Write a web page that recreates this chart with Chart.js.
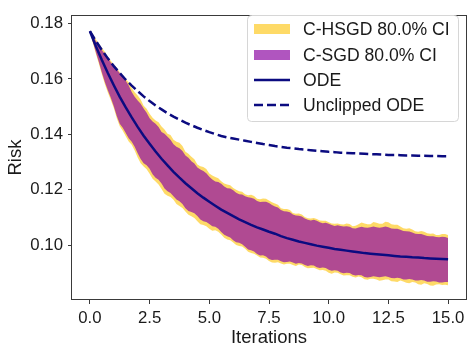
<!DOCTYPE html>
<html><head><meta charset="utf-8">
<script src="https://cdn.jsdelivr.net/npm/chart.js@4/dist/chart.umd.min.js"></script>
<style>html,body{margin:0;padding:0;background:#fff}canvas{display:block}</style>
</head><body>
<canvas id="c" width="474" height="355"></canvas>
<script>
const iterations = [0,0.25,0.5,0.75,1,1.25,1.5,1.75,2,2.25,2.5,2.75,3,3.25,3.5,3.75,4,4.25,4.5,4.75,5,5.25,5.5,5.75,6,6.25,6.5,6.75,7,7.25,7.5,7.75,8,8.25,8.5,8.75,9,9.25,9.5,9.75,10,10.25,10.5,10.75,11,11.25,11.5,11.75,12,12.25,12.5,12.75,13,13.25,13.5,13.75,14,14.25,14.5,14.75,15];
const odeRisk = [0.1772,0.1718,0.1668,0.1621,0.1577,0.1535,0.1497,0.1461,0.1427,0.1395,0.1366,0.1338,0.1312,0.1288,0.1265,0.1244,0.1224,0.1206,0.1188,0.1172,0.1157,0.1143,0.1129,0.1117,0.1105,0.1094,0.1084,0.1074,0.1065,0.1057,0.1049,0.1042,0.1033,0.1026,0.1020,0.1014,0.1009,0.1004,0.0999,0.0995,0.0991,0.0987,0.0984,0.0981,0.0978,0.0975,0.0972,0.0970,0.0968,0.0966,0.0964,0.0962,0.0960,0.0959,0.0957,0.0956,0.0954,0.0953,0.0952,0.0951,0.0950];
const unclippedOdeRisk = [0.1772,0.1737,0.1704,0.1674,0.1646,0.1621,0.1597,0.1576,0.1556,0.1537,0.1520,0.1504,0.1490,0.1476,0.1464,0.1453,0.1442,0.1433,0.1424,0.1416,0.1408,0.1401,0.1394,0.1389,0.1385,0.1381,0.1377,0.1373,0.1369,0.1365,0.1362,0.1358,0.1355,0.1352,0.1350,0.1347,0.1345,0.1343,0.1341,0.1339,0.1337,0.1336,0.1334,0.1333,0.1332,0.1331,0.1330,0.1329,0.1328,0.1327,0.1326,0.1326,0.1325,0.1324,0.1324,0.1323,0.1323,0.1322,0.1322,0.1321,0.1321];

const bandIterations = [0,0.125,0.25,0.375,0.5,0.625,0.75,0.875,1,1.125,1.25,1.375,1.5,1.625,1.75,1.875,2,2.125,2.25,2.375,2.5,2.625,2.75,2.875,3,3.125,3.25,3.375,3.5,3.625,3.75,3.875,4,4.125,4.25,4.375,4.5,4.625,4.75,4.875,5,5.125,5.25,5.375,5.5,5.625,5.75,5.875,6,6.125,6.25,6.375,6.5,6.625,6.75,6.875,7,7.125,7.25,7.375,7.5,7.625,7.75,7.875,8,8.125,8.25,8.375,8.5,8.625,8.75,8.875,9,9.125,9.25,9.375,9.5,9.625,9.75,9.875,10,10.125,10.25,10.375,10.5,10.625,10.75,10.875,11,11.125,11.25,11.375,11.5,11.625,11.75,11.875,12,12.125,12.25,12.375,12.5,12.625,12.75,12.875,13,13.125,13.25,13.375,13.5,13.625,13.75,13.875,14,14.125,14.25,14.375,14.5,14.625,14.75,14.875,15];
const chsgdUpper = [0.1776,0.1761,0.1743,0.1727,0.1712,0.1698,0.1679,0.1665,0.1652,0.1640,0.1624,0.1613,0.1599,0.1588,0.1567,0.1552,0.1540,0.1526,0.1503,0.1492,0.1474,0.1460,0.1450,0.1444,0.1428,0.1418,0.1402,0.1398,0.1381,0.1373,0.1370,0.1358,0.1337,0.1330,0.1319,0.1310,0.1291,0.1285,0.1282,0.1275,0.1259,0.1252,0.1246,0.1242,0.1231,0.1223,0.1219,0.1217,0.1207,0.1200,0.1195,0.1193,0.1184,0.1181,0.1182,0.1178,0.1168,0.1166,0.1169,0.1168,0.1162,0.1155,0.1151,0.1146,0.1134,0.1131,0.1131,0.1127,0.1117,0.1114,0.1115,0.1111,0.1102,0.1098,0.1097,0.1099,0.1095,0.1090,0.1089,0.1089,0.1083,0.1079,0.1078,0.1079,0.1076,0.1075,0.1079,0.1077,0.1069,0.1071,0.1076,0.1082,0.1079,0.1076,0.1076,0.1084,0.1081,0.1078,0.1078,0.1085,0.1083,0.1076,0.1074,0.1074,0.1068,0.1062,0.1060,0.1062,0.1057,0.1051,0.1049,0.1052,0.1049,0.1044,0.1042,0.1043,0.1037,0.1037,0.1041,0.1041,0.1037];
const chsgdLower = [0.1769,0.1729,0.1691,0.1655,0.1617,0.1582,0.1551,0.1524,0.1495,0.1458,0.1429,0.1413,0.1393,0.1374,0.1363,0.1342,0.1317,0.1296,0.1284,0.1274,0.1258,0.1240,0.1230,0.1219,0.1203,0.1186,0.1179,0.1174,0.1164,0.1149,0.1142,0.1135,0.1122,0.1110,0.1105,0.1099,0.1087,0.1076,0.1073,0.1069,0.1060,0.1053,0.1054,0.1049,0.1039,0.1027,0.1021,0.1018,0.1010,0.1001,0.0998,0.0996,0.0988,0.0977,0.0972,0.0970,0.0963,0.0956,0.0955,0.0952,0.0944,0.0938,0.0937,0.0939,0.0935,0.0931,0.0934,0.0934,0.0929,0.0926,0.0931,0.0929,0.0922,0.0917,0.0918,0.0919,0.0915,0.0910,0.0911,0.0908,0.0901,0.0898,0.0902,0.0901,0.0896,0.0891,0.0892,0.0892,0.0887,0.0884,0.0888,0.0885,0.0878,0.0876,0.0880,0.0880,0.0877,0.0872,0.0874,0.0877,0.0877,0.0871,0.0870,0.0868,0.0873,0.0870,0.0865,0.0863,0.0868,0.0866,0.0860,0.0858,0.0863,0.0861,0.0855,0.0854,0.0859,0.0860,0.0857,0.0858,0.0856];
const csgdUpper = [0.1772,0.1755,0.1737,0.1720,0.1704,0.1690,0.1674,0.1659,0.1645,0.1634,0.1620,0.1608,0.1593,0.1576,0.1553,0.1536,0.1522,0.1510,0.1493,0.1478,0.1458,0.1446,0.1438,0.1427,0.1409,0.1402,0.1391,0.1381,0.1364,0.1355,0.1350,0.1340,0.1324,0.1316,0.1303,0.1295,0.1281,0.1273,0.1268,0.1260,0.1247,0.1237,0.1230,0.1228,0.1222,0.1212,0.1206,0.1205,0.1199,0.1190,0.1184,0.1183,0.1177,0.1173,0.1172,0.1168,0.1160,0.1156,0.1157,0.1157,0.1153,0.1145,0.1140,0.1136,0.1127,0.1123,0.1122,0.1119,0.1111,0.1108,0.1107,0.1104,0.1097,0.1092,0.1090,0.1092,0.1089,0.1083,0.1080,0.1081,0.1078,0.1073,0.1070,0.1072,0.1070,0.1068,0.1069,0.1067,0.1062,0.1061,0.1064,0.1067,0.1064,0.1063,0.1065,0.1068,0.1065,0.1063,0.1065,0.1068,0.1065,0.1061,0.1060,0.1060,0.1056,0.1052,0.1051,0.1050,0.1046,0.1042,0.1041,0.1041,0.1037,0.1034,0.1033,0.1033,0.1030,0.1029,0.1031,0.1030,0.1026];
const csgdLower = [0.1772,0.1733,0.1696,0.1661,0.1623,0.1589,0.1559,0.1532,0.1501,0.1466,0.1438,0.1424,0.1405,0.1386,0.1373,0.1355,0.1332,0.1311,0.1296,0.1289,0.1276,0.1256,0.1244,0.1236,0.1223,0.1205,0.1195,0.1189,0.1177,0.1165,0.1159,0.1149,0.1134,0.1124,0.1120,0.1116,0.1106,0.1093,0.1087,0.1084,0.1077,0.1069,0.1067,0.1060,0.1048,0.1038,0.1033,0.1028,0.1018,0.1011,0.1009,0.1004,0.0995,0.0985,0.0982,0.0978,0.0969,0.0963,0.0964,0.0960,0.0951,0.0947,0.0948,0.0948,0.0943,0.0939,0.0940,0.0942,0.0938,0.0934,0.0936,0.0935,0.0929,0.0926,0.0928,0.0927,0.0921,0.0918,0.0920,0.0918,0.0912,0.0908,0.0910,0.0908,0.0902,0.0899,0.0901,0.0900,0.0894,0.0891,0.0893,0.0892,0.0886,0.0884,0.0886,0.0889,0.0887,0.0885,0.0887,0.0889,0.0886,0.0882,0.0881,0.0883,0.0881,0.0877,0.0877,0.0879,0.0877,0.0873,0.0873,0.0875,0.0873,0.0869,0.0869,0.0871,0.0870,0.0866,0.0866,0.0868,0.0868];

const xTickValues = [0,2.5,5,7.5,10,12.5,15];
const yTickValues = [0.10,0.12,0.14,0.16,0.18];
const legendLabels = ['C-HSGD 80.0% CI','C-SGD 80.0% CI','ODE','Unclipped ODE'];

const YELLOW = 'rgba(253,202,38,0.7)';
const PURPLE = 'rgba(143,13,164,0.7)';
const NAVY = '#0b0b80';
const AXIS = '#3a3a3a';
const FONT = "'Liberation Sans', Arial, sans-serif";

const pts = (xs, arr) => arr.map((v,i)=>({x: xs[i], y: v}));

const framePlugin = {
  id: 'frame',
  afterDatasetsDraw(chart) {
    const {ctx, chartArea: a} = chart;
    ctx.save();
    ctx.strokeStyle = AXIS; ctx.lineWidth = 1;
    ctx.strokeRect(Math.round(a.left)-0.5, Math.round(a.top)+0.5, Math.round(a.right-a.left)+1, Math.round(a.bottom-a.top)-1);
    ctx.restore();
  },
  afterDraw(chart) {
    const ctx = chart.ctx;
    ctx.save();
    const bx = 247.5, by = 15.5, bw = 211, bh = 106, r = 4;
    ctx.beginPath();
    ctx.moveTo(bx+r, by); ctx.lineTo(bx+bw-r, by); ctx.arcTo(bx+bw, by, bx+bw, by+r, r);
    ctx.lineTo(bx+bw, by+bh-r); ctx.arcTo(bx+bw, by+bh, bx+bw-r, by+bh, r);
    ctx.lineTo(bx+r, by+bh); ctx.arcTo(bx, by+bh, bx, by+bh-r, r);
    ctx.lineTo(bx, by+r); ctx.arcTo(bx, by, bx+r, by, r); ctx.closePath();
    ctx.fillStyle = 'rgba(255,255,255,0.8)'; ctx.fill();
    ctx.strokeStyle = '#d6d6d6'; ctx.lineWidth = 1; ctx.stroke();
    const rows = [29, 55, 80, 105];
    const hx = 254, hw = 36;
    ctx.fillStyle = YELLOW; ctx.fillRect(hx, rows[0]-5, hw, 10);
    ctx.fillStyle = PURPLE; ctx.fillRect(hx, rows[1]-5, hw, 10);
    ctx.strokeStyle = NAVY; ctx.lineWidth = 2.5;
    ctx.beginPath(); ctx.moveTo(hx, rows[2]); ctx.lineTo(hx+hw, rows[2]); ctx.stroke();
    ctx.setLineDash([9,4]);
    ctx.beginPath(); ctx.moveTo(hx, rows[3]); ctx.lineTo(hx+hw, rows[3]); ctx.stroke();
    ctx.setLineDash([]);
    ctx.fillStyle = '#1a1a1a';
    ctx.font = "17.6px " + FONT;
    ctx.textBaseline = 'middle'; ctx.textAlign = 'left';
    legendLabels.forEach((t,i)=>ctx.fillText(t, 303, rows[i]+1));
    ctx.restore();
  }
};

new Chart(document.getElementById('c'), {
  type: 'line',
  data: {
    datasets: [
      {label: legendLabels[0], data: pts(bandIterations, chsgdUpper), fill: 1, backgroundColor: YELLOW, borderWidth: 0, pointRadius: 0, order: 5},
      {label: 'hsgd-lower', data: pts(bandIterations, chsgdLower), fill: false, borderWidth: 0, pointRadius: 0, order: 5},
      {label: legendLabels[1], data: pts(bandIterations, csgdUpper), fill: 3, backgroundColor: PURPLE, borderWidth: 0, pointRadius: 0, order: 4},
      {label: 'sgd-lower', data: pts(bandIterations, csgdLower), fill: false, borderWidth: 0, pointRadius: 0, order: 4},
      {label: legendLabels[2], data: pts(iterations, odeRisk), fill: false, borderColor: NAVY, borderWidth: 2.5, pointRadius: 0, order: 1},
      {label: legendLabels[3], data: pts(iterations, unclippedOdeRisk), fill: false, borderColor: NAVY, borderWidth: 2.5, borderDash: [9,4], pointRadius: 0, order: 1}
    ]
  },
  options: {
    responsive: false, animation: false, devicePixelRatio: 1,
    layout: {padding: {left: 0, right: 8, top: 6, bottom: 0}},
    plugins: {legend: {display: false}, tooltip: {enabled: false}},
    elements: {line: {tension: 0}},
    scales: {
      x: {
        type: 'linear', min: -0.75, max: 15.75,
        afterFit: s => { s.height = 55; },
        afterBuildTicks: s => { s.ticks = xTickValues.map(v=>({value: v})); },
        border: {display: false},
        grid: {display: true, drawOnChartArea: false, drawTicks: true, tickLength: 4, color: AXIS},
        ticks: {padding: 4, color: '#1a1a1a', font: {family: FONT, size: 16.8}, maxRotation: 0, autoSkip: false, callback: v => v.toFixed(1)},
        title: {display: true, text: 'Iterations', color: '#1a1a1a', font: {family: FONT, size: 18.5}, padding: {top: 0, bottom: 6}}
      },
      y: {
        type: 'linear', min: 0.0803, max: 0.1830,
        afterFit: s => { s.width = 72; },
        afterBuildTicks: s => { s.ticks = yTickValues.map(v=>({value: v})); },
        border: {display: false},
        grid: {display: true, drawOnChartArea: false, drawTicks: true, tickLength: 4, color: AXIS},
        ticks: {padding: 5, color: '#1a1a1a', font: {family: FONT, size: 16.8}, autoSkip: false, callback: v => v.toFixed(2)},
        title: {display: true, text: 'Risk', color: '#1a1a1a', font: {family: FONT, size: 18.5}, padding: {top: 5, bottom: 0}}
      }
    }
  },
  plugins: [framePlugin]
});
</script>
</body></html>
